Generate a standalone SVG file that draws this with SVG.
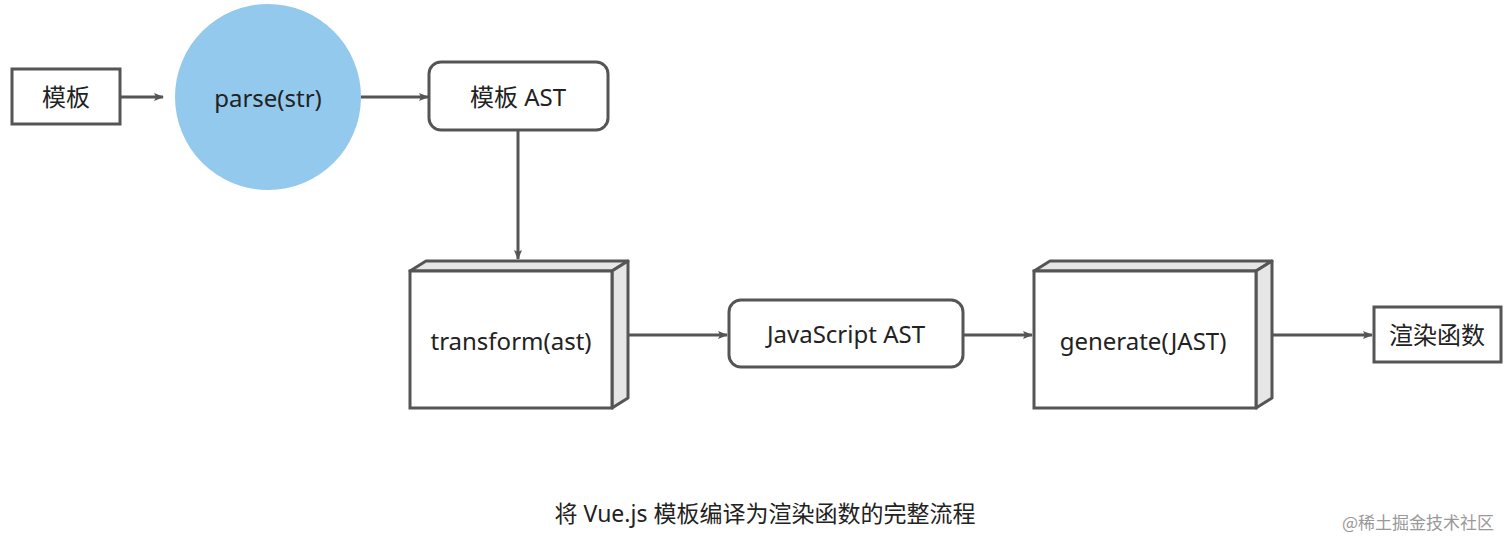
<svg xmlns="http://www.w3.org/2000/svg" width="1512" height="547" viewBox="0 0 1512 547">
<style>
.b{fill:#fff;stroke:#555;stroke-width:3}
.s{fill:#e6e6e6;stroke:#555;stroke-width:3;stroke-linejoin:round}
.t{font-family:"Noto Sans","Noto Sans CJK SC",sans-serif;font-size:24px;fill:#222;text-anchor:middle;dominant-baseline:central}
.c{stroke:#555;stroke-width:3;fill:none;marker-end:url(#a)}
</style>
<defs><marker id="a" markerWidth="10" markerHeight="8" refX="9" refY="4" orient="auto" markerUnits="userSpaceOnUse" viewBox="0 0 10 8"><path d="M0,0L10,4L0,8L2,4z" fill="#555"/></marker></defs>
<rect width="1512" height="547" fill="#fff"/>
<g id="connectors">
<path class="c" d="M120,97H163"/>
<path class="c" d="M361,97H428"/>
<path class="c" d="M518,131V259"/>
<path class="c" d="M628,335H727"/>
<path class="c" d="M963,335H1032"/>
<path class="c" d="M1272,335H1372"/>
</g>
<g id="template"><rect class="b" x="12" y="69" width="108" height="55"/><text class="t" x="66" y="96">模板</text></g>
<g id="parse"><circle cx="268" cy="97" r="93" fill="#93c9ec"/><text class="t" x="268" y="97">parse(str)</text></g>
<g id="tast"><rect class="b" x="429" y="62" width="179" height="68" rx="12"/><text class="t" x="518" y="96">模板 AST</text></g>
<g id="transform"><path class="s" d="M410,271L426,261H628L612,271Z"/><path class="s" d="M612,271L628,261V398L612,408Z"/><rect class="b" x="410" y="271" width="202" height="137"/><text class="t" x="511" y="340">transform(ast)</text></g>
<g id="jsast"><rect class="b" x="729" y="300" width="234" height="67" rx="12"/><text class="t" x="846" y="333">JavaScript AST</text></g>
<g id="generate"><path class="s" d="M1034,271L1050,261H1272L1256,271Z"/><path class="s" d="M1256,271L1272,261V398L1256,408Z"/><rect class="b" x="1034" y="271" width="222" height="137"/><text class="t" x="1143" y="340">generate(JAST)</text></g>
<g id="render"><rect class="b" x="1374" y="307" width="127" height="55"/><text class="t" x="1437" y="334">渲染函数</text></g>
<text class="t" x="765" y="513" style="font-size:23px">将 Vue.js 模板编译为渲染函数的完整流程</text>
<text x="1494" y="521" style="font-family:'Noto Sans CJK SC',sans-serif;font-size:17px;fill:#999;text-anchor:end;dominant-baseline:central">@稀土掘金技术社区</text>
</svg>
